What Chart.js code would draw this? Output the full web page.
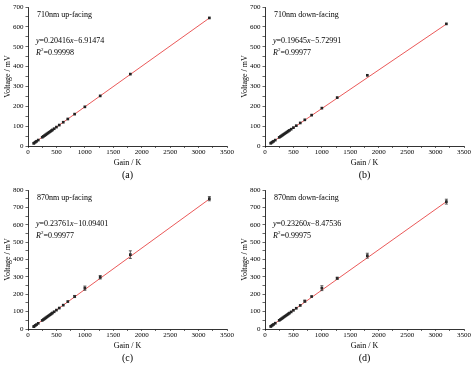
<!DOCTYPE html>
<html><head><meta charset="utf-8">
<script src="https://cdn.jsdelivr.net/npm/chart.js@4"></script>
<style>
html,body{margin:0;padding:0;background:#fff;}
#wrap{width:474px;height:366px;display:grid;grid-template-columns:237px 237px;grid-template-rows:183px 183px;}
canvas{display:block;}
</style></head><body>
<div id="wrap">
<canvas id="ca" width="237" height="183"></canvas>
<canvas id="cb" width="237" height="183"></canvas>
<canvas id="cc" width="237" height="183"></canvas>
<canvas id="cd" width="237" height="183"></canvas>
</div>
<script>
// Gain (K) values shared by all panels
const gains = [100,110,130,150,180,250,270,290,310,330,350,370,390,410,430,460,500,550,620,700,820,1000,1270,1800,3190];
// Voltage (mV) per panel
const voltA = [13.5,15.5,19.6,23.7,29.8,44.1,48.2,52.3,56.4,60.5,64.5,68.6,72.7,76.8,80.9,87.0,95.2,105.4,119.7,136.0,160.5,197.2,252.4,362,645];
const errA  = [0.4,0.4,0.4,0.4,0.5,0.6,0.6,0.6,0.6,0.7,0.7,0.7,0.8,0.8,0.8,0.9,1,1,1.2,1.5,2,2.5,3,3,4];
const voltB = [13.9,15.9,19.8,23.7,29.6,43.4,47.3,51.2,55.2,59.1,63.0,67.0,70.9,74.8,78.7,84.6,92.5,102.3,116.1,131.8,155.4,190.7,243.8,356,615];
const errB  = [0.4,0.4,0.4,0.4,0.5,0.6,0.6,0.6,0.6,0.7,0.7,0.7,0.8,0.8,0.8,0.9,1,1,1.2,1.5,2,2.5,3,4,4];
const voltC = [13.7,16.0,20.8,25.5,32.7,49.3,54.1,58.8,63.6,68.3,73.1,77.8,82.6,87.3,92.1,99.2,108.7,120.6,137.2,158,187,235,298,428,750];
const errC  = [0.5,0.5,0.5,0.5,0.8,1,1,1,1,1,1.5,1.5,1.5,1.5,2,2,2,2,3,4,6,12,10,22,12];
const voltD = [14.8,17.1,21.8,26.4,33.4,49.7,54.3,59.0,63.6,68.3,72.9,77.6,82.2,86.9,91.5,98.5,107.8,119.4,135.7,160,187,235,292,422,733];
const errD  = [0.5,0.5,0.5,0.5,0.8,1,1,1,1,1,1.5,1.5,1.5,1.5,2,2,2,2,3,6,5,14,6,14,14];
// Fitted line end points [gain, voltage]
const fitA = [[95,12.5],[3190,644.4]];
const fitB = [[95,12.9],[3190,614]];
const fitC = [[95,12.5],[3190,748]];
const fitD = [[95,13.6],[3190,733]];
// Texts
const labelsA = {name:'710nm up-facing',   slope:'0.20416', icpt:'\u22126.91474',  r2:'0.99998', tag:'(a)', ymax:700};
const labelsB = {name:'710nm down-facing', slope:'0.19645', icpt:'\u22125.72991',  r2:'0.99977', tag:'(b)', ymax:700};
const labelsC = {name:'870nm up-facing',   slope:'0.23761', icpt:'\u221210.09401', r2:'0.99977', tag:'(c)', ymax:800};
const labelsD = {name:'870nm down-facing', slope:'0.23260', icpt:'\u22128.47536',  r2:'0.99975', tag:'(d)', ymax:800};

const SERIF = '"Liberation Serif", "DejaVu Serif", serif';

const errorBars = {
  id:'errorBars',
  afterDatasetsDraw(chart){
    const ctx = chart.ctx, xs = chart.scales.x, ys = chart.scales.y;
    chart.data.datasets.forEach(ds=>{
      if(!ds.errors) return;
      ctx.save();
      ctx.strokeStyle = '#333'; ctx.lineWidth = 0.8;
      ds.data.forEach((p,i)=>{
        const e = ds.errors[i];
        const px = xs.getPixelForValue(p.x);
        const y1 = ys.getPixelForValue(p.y - e), y2 = ys.getPixelForValue(p.y + e);
        if (Math.abs(y1-y2) < 2) return;
        ctx.beginPath();
        ctx.moveTo(px,y1); ctx.lineTo(px,y2);
        ctx.moveTo(px-1.5,y1); ctx.lineTo(px+1.5,y1);
        ctx.moveTo(px-1.5,y2); ctx.lineTo(px+1.5,y2);
        ctx.stroke();
      });
      ctx.restore();
    });
  }
};

const annot = {
  id:'annot',
  afterDraw(chart){
    const L = chart.options.plugins.annot.labels;
    const ctx = chart.ctx;
    const x0 = chart.chartArea.left + 8;
    ctx.save();
    ctx.fillStyle = '#000';
    ctx.textBaseline = 'middle';
    ctx.textAlign = 'left';
    ctx.font = '8px ' + SERIF;
    ctx.fillText(L.name, x0+1, 15);
    // equation
    let x = x0;
    const y = 41;
    const seg = (t, italic) => { ctx.font = (italic?'italic ':'') + '8px ' + SERIF; ctx.fillText(t, x, y); x += ctx.measureText(t).width; };
    seg('y', true); seg('=' + L.slope, false); seg('x', true); seg(L.icpt, false);
    // R^2
    x = x0;
    const y2 = 53;
    ctx.font = 'italic 8px ' + SERIF; ctx.fillText('R', x, y2); x += ctx.measureText('R').width;
    ctx.font = '5px ' + SERIF; ctx.fillText('2', x, y2-3); x += ctx.measureText('2').width;
    ctx.font = '8px ' + SERIF; ctx.fillText('=' + L.r2, x, y2);
    // panel tag
    ctx.textAlign = 'center';
    ctx.font = '10px ' + SERIF;
    ctx.fillText(L.tag, (chart.chartArea.left + chart.chartArea.right)/2, 175);
    ctx.restore();
  }
};

function makeChart(id, volts, errs, fit, labels){
  const pts = gains.map((g,i)=>({x:g, y:volts[i]}));
  new Chart(document.getElementById(id), {
    type:'scatter',
    data:{datasets:[
      {type:'line', data:fit.map(p=>({x:p[0],y:p[1]})), borderColor:'rgb(232,70,70)', borderWidth:0.9, pointRadius:0, fill:false, order:2},
      {data:pts, errors:errs, pointStyle:'rect', pointRadius:1.9, backgroundColor:'#222', borderColor:'#222', borderWidth:0, order:1}
    ]},
    options:{
      responsive:false, animation:false, devicePixelRatio:1,
      layout:{padding:{top:7,right:10,left:0,bottom:0}},
      plugins:{legend:{display:false}, tooltip:{enabled:false}, annot:{labels}},
      scales:{
        x:{type:'linear', min:0, max:3500,
          afterFit(s){ s.height = 37; },
          border:{display:true, color:'#000', width:0.8},
          grid:{drawOnChartArea:false, drawTicks:true, tickLength:2, color:'#000', lineWidth:0.6},
          ticks:{stepSize:250, autoSkip:false, maxRotation:0, padding:0, color:'#000', font:{family:SERIF,size:7},
                 callback:v=> (v%500===0? String(v) : '')},
          title:{display:true, text:'Gain / K', color:'#000', font:{family:SERIF,size:8}, padding:{top:0,bottom:15}}
        },
        y:{type:'linear', min:0, max:labels.ymax,
          afterFit(s){ s.width = 28; },
          border:{display:true, color:'#000', width:0.8},
          grid:{drawOnChartArea:false, drawTicks:true, tickLength:2.5, color:'#000', lineWidth:0.6},
          ticks:{stepSize:50, autoSkip:false, padding:2, color:'#000', font:{family:SERIF,size:7},
                 callback:v=> (v%100===0? String(v) : '')},
          title:{display:true, text:'Voltage / mV', color:'#000', font:{family:SERIF,size:8}, padding:{top:3,bottom:0}}
        }
      }
    },
    plugins:[errorBars, annot]
  });
}
makeChart('ca', voltA, errA, fitA, labelsA);
makeChart('cb', voltB, errB, fitB, labelsB);
makeChart('cc', voltC, errC, fitC, labelsC);
makeChart('cd', voltD, errD, fitD, labelsD);
</script>
</body></html>
